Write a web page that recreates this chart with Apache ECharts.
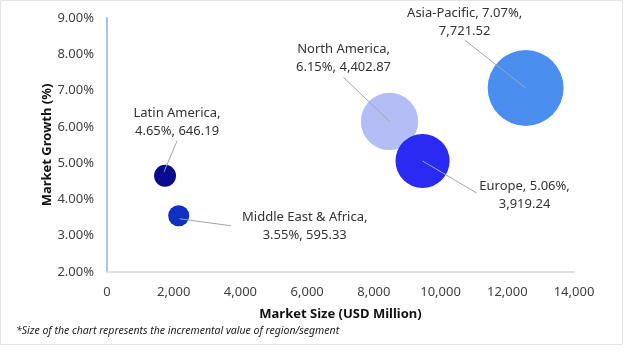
<!DOCTYPE html>
<html>
<head>
<meta charset="utf-8">
<script src="https://cdn.jsdelivr.net/npm/echarts@6/dist/echarts.min.js"></script>
<style>
html,body{margin:0;padding:0;background:#fff;}
#c{width:628px;height:362px;}
</style>
</head>
<body>
<div id="c"></div>
<script>
var regions = ['Latin America', 'Middle East & Africa', 'North America', 'Europe', 'Asia-Pacific'];
var marketSize = [1740, 2150, 8470, 9460, 12550];
var growth = [4.65, 3.55, 6.15, 5.06, 7.07];
var increment = [646.19, 595.33, 4402.87, 3919.24, 7721.52];
var xTicks = [0, 2000, 4000, 6000, 8000, 10000, 12000, 14000];
var yTicks = [2, 3, 4, 5, 6, 7, 8, 9];

var colors = ['#0a0a8f', '#0f30c0', '#b4bdf6', '#2a2af2', '#4a8ff0'];
// label centre offset and leader line (start -> end) relative to bubble centre, in px
var labelOffsets = [[12, -54], [126, 11], [-46, -63], [102, 34], [-61, -66]];
var leaderLines = [[[-1, -4], [12, -35]], [[1, 3], [52, 10]], [[0, 0], [-46, -44]], [[0, 0], [54, 32]], [[0, 0], [-61, -48]]];

function fmt(v) {
  return v.toLocaleString('en-US', {minimumFractionDigits: 2, maximumFractionDigits: 2});
}
function labelText(i) {
  var n = regions[i], g = growth[i].toFixed(2) + '%', v = fmt(increment[i]);
  if (n.indexOf(' ') >= 0) return n + ',\n' + g + ', ' + v;
  return n + ', ' + g + ',\n' + v;
}

var data = regions.map(function (r, i) {
  return {
    name: r,
    value: [marketSize[i], growth[i], increment[i]],
    itemStyle: {color: colors[i], opacity: 1}
  };
});
var labelData = regions.map(function (r, i) { return [marketSize[i], growth[i], i]; });

var chart = echarts.init(document.getElementById('c'), null, {renderer: 'canvas'});
chart.setOption({
  animation: false,
  backgroundColor: '#ffffff',
  textStyle: {fontFamily: 'Noto Sans'},
  graphic: [
    {type: 'rect', shape: {x: 0.5, y: 0.5, width: 622, height: 344}, style: {fill: 'none', stroke: '#e4e4e4', lineWidth: 1}, silent: true, z: -10},
    {type: 'text', left: 16, top: 326, style: {text: '*Size of the chart represents the incremental value of region/segment', font: 'italic 10.5px "Noto Sans"', fill: '#222'}}
  ],
  grid: {left: 107, right: 54, top: 18, bottom: 90, containLabel: false},
  xAxis: {
    type: 'value', min: xTicks[0], max: xTicks[xTicks.length - 1], interval: 2000,
    name: 'Market Size (USD Million)', nameLocation: 'middle', nameGap: 36, nameMoveOverlap: false,
    nameTextStyle: {fontWeight: 'bold', fontSize: 13, color: '#111', fontFamily: 'Noto Sans'},
    axisLine: {show: true, lineStyle: {color: '#dde2ec', width: 2}},
    axisTick: {show: false}, splitLine: {show: false},
    axisLabel: {fontSize: 13, color: '#404040', margin: 14, formatter: function (v) { return v.toLocaleString('en-US'); }}
  },
  yAxis: {
    type: 'value', min: yTicks[0], max: yTicks[yTicks.length - 1], interval: 1,
    name: 'Market Growth (%)', nameLocation: 'middle', nameGap: 53, nameRotate: 90, nameMoveOverlap: false,
    nameTextStyle: {fontWeight: 'bold', fontSize: 13, color: '#111', fontFamily: 'Noto Sans'},
    axisLine: {show: true, lineStyle: {color: '#a9c2e6', width: 2}},
    axisTick: {show: false}, splitLine: {show: false},
    axisLabel: {fontSize: 13, color: '#404040', margin: 13, formatter: function (v) { return v.toFixed(2) + '%'; }}
  },
  series: [{
    type: 'scatter',
    data: data,
    symbolSize: function (val) { return Math.sqrt(val[2]) * 0.864; },
    emphasis: {disabled: true}
  }, {
    type: 'custom',
    data: labelData,
    clip: false,
    z: 5,
    renderItem: function (params, api) {
      var i = api.value(2);
      var c = api.coord([api.value(0), api.value(1)]);
      var L = leaderLines[i], o = labelOffsets[i];
      return {
        type: 'group',
        children: [{
          type: 'line',
          shape: {x1: c[0] + L[0][0], y1: c[1] + L[0][1], x2: c[0] + L[1][0], y2: c[1] + L[1][1]},
          style: {stroke: '#9aa6b8', lineWidth: 1}
        }, {
          type: 'text',
          x: c[0] + o[0], y: c[1] + o[1],
          style: {
            text: labelText(i), fill: '#333', font: '13px "Noto Sans"', lineHeight: 18,
            align: 'center', verticalAlign: 'middle'
          }
        }]
      };
    }
  }]
});
</script>
</body>
</html>
